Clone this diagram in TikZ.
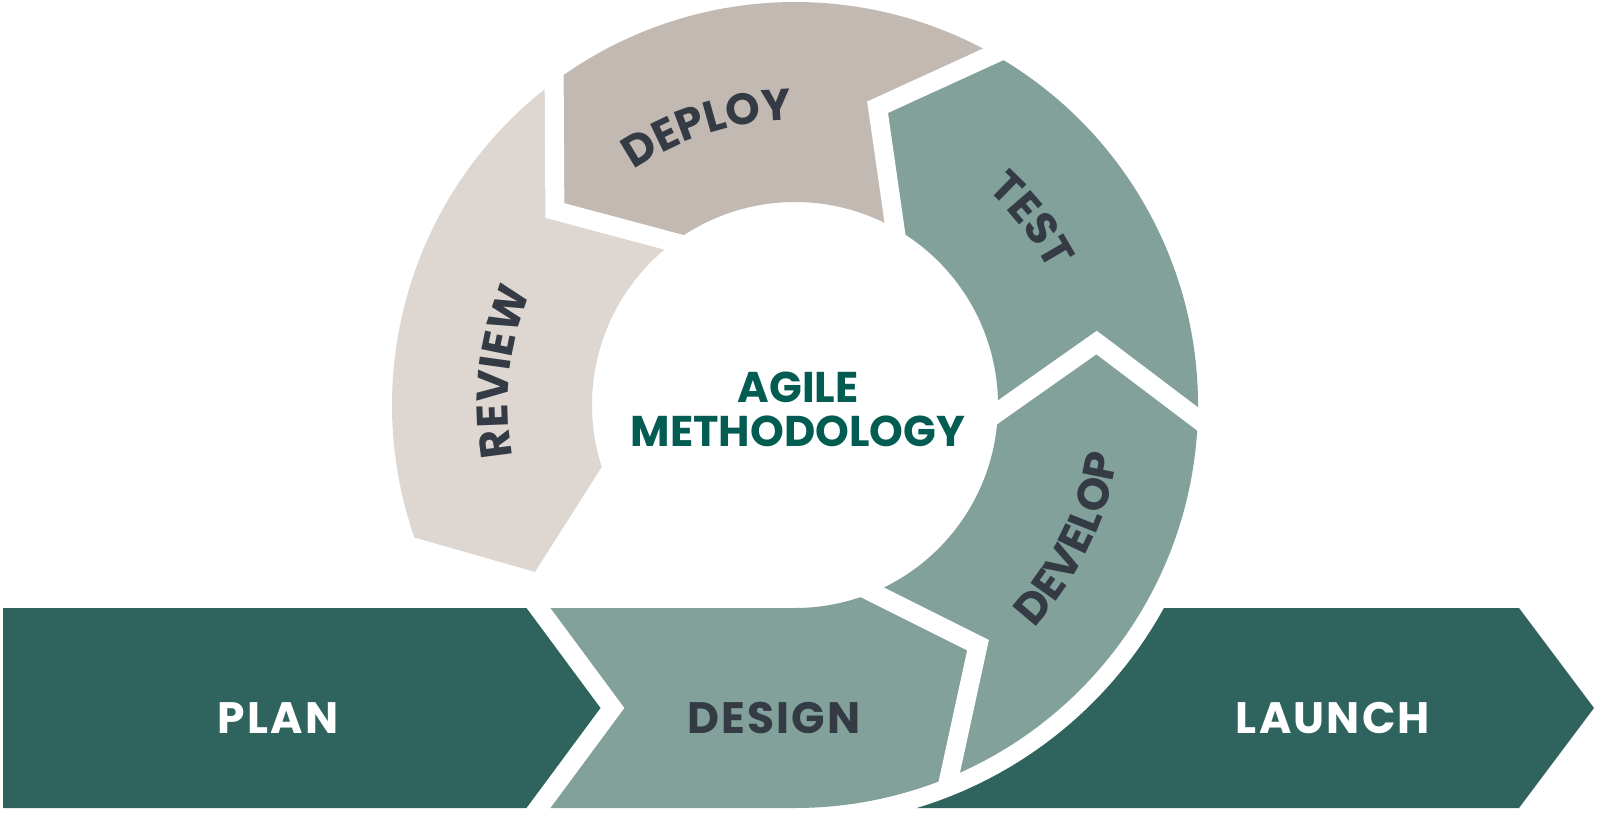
\documentclass[tikz,border=0pt]{standalone}
\usepackage{fontspec}
\setmainfont{Poppins}
\usetikzlibrary{calc,decorations.text}
\definecolor{bandgreen}{HTML}{2F645E}
\definecolor{sage}{HTML}{82A19B}
\definecolor{taupe}{HTML}{C3B9B3}
\definecolor{stone}{HTML}{DDD6D1}
\definecolor{slate}{HTML}{343B45}
\definecolor{titleteal}{HTML}{035C51}
\newcommand{\labelfont}{\bfseries\fontsize{44}{52}\selectfont\addfontfeature{LetterSpace=5}}
\tikzstyle{gap} = [
  draw=white,
  line width=19pt,
  line cap=rect,
]
\tikzstyle{bandlabel} = [
  anchor=base,
  font=\labelfont,
  text=white,
]
\tikzstyle{title} = [
  anchor=base,
  font=\bfseries\fontsize{43}{48}\selectfont,
  text=titleteal,
]
\tikzset{
  ringlabel/.style={
    decorate,
    decoration={
      text along path,
      text align=center,
      text color=slate,
      text={|\labelfont|#1},
    },
  },
}

\begin{document}
\begin{tikzpicture}[
    x=1pt,
    y=1pt,
  ]
  \useasboundingbox (0,0) rectangle (1600,820);
  \begin{scope}[shift={(795,415)}]
    % ring segments
    \fill[sage] (-67.5:203) -- (-52.7:302) -- (-67.5:403)
      arc[start angle=-67.5, end angle=-2, radius=403]
      -- (11.7:308) -- (-2:203)
      arc[start angle=-2, end angle=-67.5, radius=203] -- cycle;
    \fill[sage] (-2:203) -- (11.7:308) -- (-2:403)
      arc[start angle=-2, end angle=60.5, radius=403]
      -- (74.5:309) -- (60.5:203)
      arc[start angle=60.5, end angle=-2, radius=203] -- cycle;
    \fill[taupe] (60.5:203) -- (74.5:309) -- (60.5:403)
      arc[start angle=60.5, end angle=126.7, radius=403]
      -- (141:309) -- (126.7:203)
      arc[start angle=126.7, end angle=60.5, radius=203] -- cycle;
    \fill[stone] (126.7:203) -- (141:309) -- (126.7:403)
      arc[start angle=126.7, end angle=199.2, radius=403]
      -- (212.7:309) -- (197.8:203)
      arc[start angle=197.8, end angle=126.7, radius=203] -- cycle;
    % design and plan
    \fill[sage] (-256.5,-203) -- (0,-203)
      arc[start angle=-90, end angle=-67.5, radius=203]
      -- (-52.7:302) -- (-67.5:403)
      arc[start angle=-67.5, end angle=-90, radius=403]
      -- (-256.5,-403) -- (-182.5,-303) -- cycle;
    \fill[bandgreen] (-792,-203) -- (-256.5,-203) -- (-182.5,-303)
      -- (-256.5,-403) -- (-792,-403) -- cycle;
    % gaps
    \draw[gap] (-67.5:203) -- (-52.7:302) -- (-67.5:403);
    \draw[gap] (-2:203) -- (11.7:308) -- (-2:403);
    \draw[gap] (60.5:203) -- (74.5:309) -- (60.5:403);
    \draw[gap] (126.7:203) -- (141:309) -- (126.7:403);
    \draw[gap] (-256.5,-203) -- (-182.5,-303) -- (-256.5,-403);
    % launch
    \fill[bandgreen] (368.8,-203) -- (724,-203) -- (799,-303)
      -- (724,-403) -- (121.8,-403)
      arc[start angle=-73.2, end angle=-28.8, radius=421] -- cycle;
    % labels
    \path[ringlabel=DEPLOY] (140:285) arc[start angle=140, end angle=75, radius=285];
    \path[ringlabel=TEST] (70:288) arc[start angle=70, end angle=6, radius=288];
    \path[ringlabel=REVIEW] (205:287) arc[start angle=205, end angle=142, radius=287];
    \path[ringlabel=DEVELOP] (-58:327) arc[start angle=-58, end angle=6, radius=327];
    \node[title] (agile) at (3,2) {AGILE};
    \node[title] (method) at (3,-42) {METHODOLOGY};
    \node[bandlabel] (plan) at (-517,-328) {PLAN};
    \node[bandlabel, text=slate] (design) at (-21,-328) {DESIGN};
    \node[bandlabel] (launch) at (538,-328) {LAUNCH};
  \end{scope}
\end{tikzpicture}
\end{document}
